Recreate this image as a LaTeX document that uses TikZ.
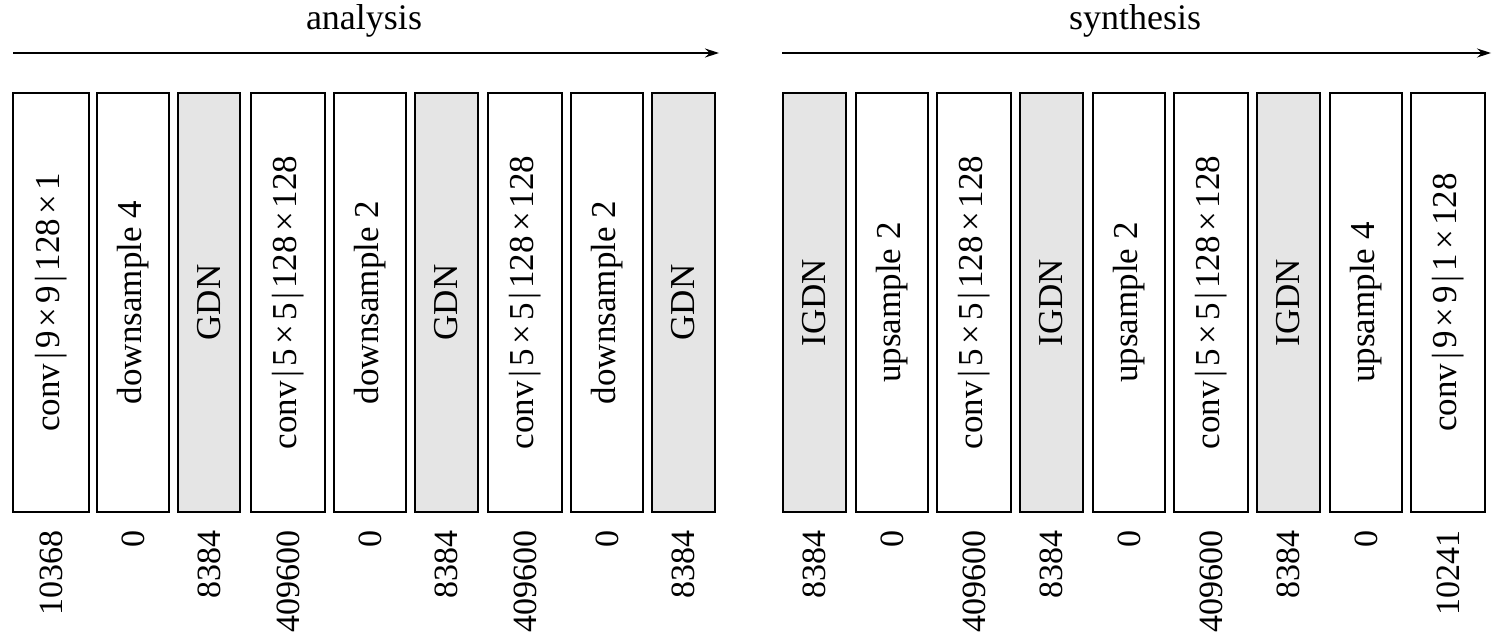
\documentclass[tikz,border=0pt]{standalone}
\usepackage{fontspec}
\setmainfont{Liberation Serif}
\usetikzlibrary{arrows.meta}
\newcommand{\bx}{\hspace{4pt}×\hspace{4pt}}
\newcommand{\br}{\hspace{4pt}|\hspace{4pt}}
\begin{document}
\begin{tikzpicture}[x=1pt,y=-1pt,
  lay/.style={draw,line width=1.2pt,rotate=90,minimum width=419pt,inner sep=0pt,font=\fontsize{35}{36}\selectfont},
  num/.style={rotate=90,anchor=east,inner sep=0pt,font=\fontsize{34}{36}\selectfont},
  hd/.style={font=\fontsize{36}{38}\selectfont},
  ar/.style={-{Stealth[length=14pt,width=9pt]},line width=1.2pt}]
\useasboundingbox (0,0) rectangle (1506,640);
\newcommand{\lay}[5]{% name, x1, x2, fill, text
  \node[lay,fill=#4,minimum height={#3-#2}] (#1) at ({(#2+#3)/2},302.5) {#5};}
\newcommand{\num}[3]{\node[num] (#1) at (#2,530) {#3};}
\lay{a1}{13}{89}{white}{conv\br 9\bx 9\br 128\bx 1}
\lay{a2}{97}{169}{white}{downsample 4}
\lay{a3}{178}{240}{black!10}{GDN}
\lay{a4}{251}{325}{white}{conv\br 5\bx 5\br 128\bx 128}
\lay{a5}{334}{406}{white}{downsample 2}
\lay{a6}{415}{478}{black!10}{GDN}
\lay{a7}{488}{562}{white}{conv\br 5\bx 5\br 128\bx 128}
\lay{a8}{571}{643}{white}{downsample 2}
\lay{a9}{652}{715}{black!10}{GDN}
\lay{s1}{783}{846}{black!10}{IGDN}
\lay{s2}{856}{928}{white}{upsample 2}
\lay{s3}{937}{1011}{white}{conv\br 5\bx 5\br 128\bx 128}
\lay{s4}{1020}{1083}{black!10}{IGDN}
\lay{s5}{1093}{1165}{white}{upsample 2}
\lay{s6}{1174}{1248}{white}{conv\br 5\bx 5\br 128\bx 128}
\lay{s7}{1257}{1320}{black!10}{IGDN}
\lay{s8}{1330}{1402}{white}{upsample 4}
\lay{s9}{1411}{1485}{white}{conv\br 9\bx 9\br 1\bx 128}
\num{n1}{51}{10368}
\num{n2}{133}{0}
\num{n3}{209}{8384}
\num{n4}{288}{409600}
\num{n5}{370}{0}
\num{n6}{446}{8384}
\num{n7}{525}{409600}
\num{n8}{607}{0}
\num{n9}{683}{8384}
\num{m1}{814}{8384}
\num{m2}{892}{0}
\num{m3}{974}{409600}
\num{m4}{1051}{8384}
\num{m5}{1129}{0}
\num{m6}{1211}{409600}
\num{m7}{1288}{8384}
\num{m8}{1366}{0}
\num{m9}{1448}{10241}
\coordinate (aa) at (13,53); \coordinate (ab) at (719,53);
\coordinate (sa) at (782,53); \coordinate (sb) at (1491,53);
\draw[ar] (aa) -- (ab);
\draw[ar] (sa) -- (sb);
\node[hd] (ha) at (364,21) {analysis};
\node[hd] (hs) at (1135,21) {synthesis};
\end{tikzpicture}
\end{document}
